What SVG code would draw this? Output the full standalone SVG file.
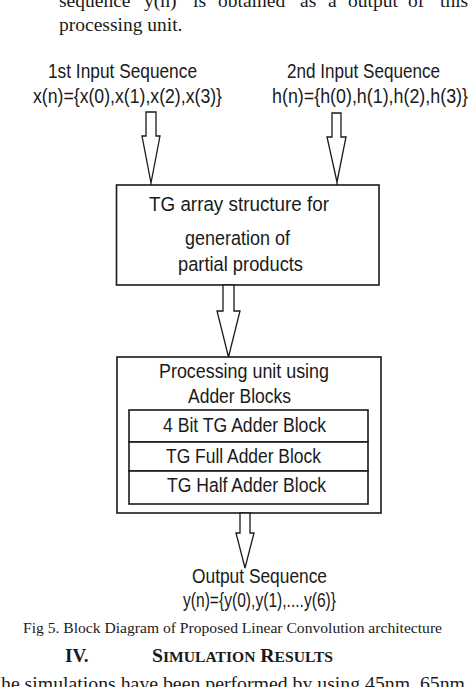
<svg xmlns="http://www.w3.org/2000/svg" width="474" height="687" viewBox="0 0 474 687">
<style>
.body{font-family:"Liberation Serif","Times New Roman",serif;fill:#1a1a1a}
.d{font-family:"Liberation Sans",Arial,sans-serif;fill:#1a1a1a}
.box{fill:#fff;stroke:#1a1a1a;stroke-width:1.6}
.arr{fill:#fff;stroke:#1a1a1a;stroke-width:1.3;stroke-linejoin:miter}
</style>
<rect width="474" height="687" fill="#fff"/>
<g id="body-top" class="body" font-size="19.5">
<text y="7"><tspan x="59">sequence</tspan><tspan x="144">y(n)</tspan><tspan x="193">is</tspan><tspan x="218">obtained</tspan><tspan x="300">as</tspan><tspan x="328">a</tspan><tspan x="348">output</tspan><tspan x="408">of</tspan><tspan x="440">this</tspan></text>
<text x="59" y="31">processing unit.</text>
</g>
<g id="input1" class="d" font-size="19.5">
<text x="48" y="78" textLength="149" lengthAdjust="spacingAndGlyphs">1st Input Sequence</text>
<text x="33" y="103" textLength="189" lengthAdjust="spacingAndGlyphs">x(n)={x(0),x(1),x(2),x(3)}</text>
</g>
<g id="input2" class="d" font-size="19.5">
<text x="287" y="78" textLength="153" lengthAdjust="spacingAndGlyphs">2nd Input Sequence</text>
<text x="272" y="103" textLength="196" lengthAdjust="spacingAndGlyphs">h(n)={h(0),h(1),h(2),h(3)}</text>
</g>
<g id="tg-array">
<rect class="box" x="116.5" y="185" width="262.5" height="100"/>
<g class="d" font-size="20.5">
<text x="149" y="211" textLength="180" lengthAdjust="spacingAndGlyphs">TG array structure for</text>
<text x="185" y="245" textLength="105" lengthAdjust="spacingAndGlyphs">generation of</text>
<text x="178" y="271" textLength="125" lengthAdjust="spacingAndGlyphs">partial products</text>
</g>
</g>
<g id="processing-unit">
<rect class="box" x="117" y="357" width="264" height="156"/>
<g class="d" font-size="20.5">
<text x="159" y="378" textLength="170" lengthAdjust="spacingAndGlyphs">Processing unit using</text>
<text x="188" y="403" textLength="103" lengthAdjust="spacingAndGlyphs">Adder Blocks</text>
</g>
<g id="adder-4bit">
<rect class="box" x="129" y="410" width="239" height="32"/>
<text class="d" font-size="20.5" x="163" y="432" textLength="163" lengthAdjust="spacingAndGlyphs">4 Bit TG Adder Block</text>
</g>
<g id="adder-full">
<rect class="box" x="129" y="442" width="239" height="29"/>
<text class="d" font-size="20.5" x="166" y="463" textLength="155" lengthAdjust="spacingAndGlyphs">TG Full Adder Block</text>
</g>
<g id="adder-half">
<rect class="box" x="129" y="471" width="239" height="33"/>
<text class="d" font-size="20.5" x="167" y="492" textLength="159" lengthAdjust="spacingAndGlyphs">TG Half Adder Block</text>
</g>
</g>
<g id="output" class="d" font-size="19.5">
<text x="192" y="583" textLength="135" lengthAdjust="spacingAndGlyphs">Output Sequence</text>
<text x="183" y="607" textLength="153" lengthAdjust="spacingAndGlyphs">y(n)={y(0),y(1),....y(6)}</text>
</g>
<g id="connectors">
<polygon class="arr" points="146,112 156,112 156,136 160,136 151,183 142,136 146,136"/>
<line x1="151" y1="183" x2="151" y2="185" stroke="#1a1a1a" stroke-width="1.3"/>
<polygon class="arr" points="332,113 341,113 341,137 346,137 337,182 327,137 332,137"/>
<line x1="337" y1="182" x2="337" y2="185" stroke="#1a1a1a" stroke-width="1.3"/>
<polygon class="arr" points="223,285 234,285 234,311 240,311 228.5,357 217,311 223,311"/>
<polygon class="arr" points="240,513 250,513 250,533 254,533 245,568 236,533 240,533"/>
</g>
<g id="caption" class="body">
<text x="23" y="633" font-size="15" textLength="419" lengthAdjust="spacingAndGlyphs">Fig 5. Block Diagram of Proposed Linear Convolution architecture</text>
<text x="65" y="662" font-size="19" font-weight="bold">IV.</text>
<text x="152" y="662" font-size="19" font-weight="bold" textLength="181" lengthAdjust="spacingAndGlyphs">S<tspan font-size="15">IMULATION</tspan> R<tspan font-size="15">ESULTS</tspan></text>
<text x="1" y="690" font-size="19.5" textLength="464" lengthAdjust="spacingAndGlyphs">he simulations have been performed by using 45nm, 65nm</text>
</g>
</svg>
